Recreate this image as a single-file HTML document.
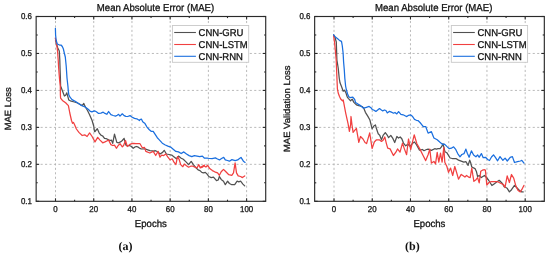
<!DOCTYPE html>
<html><head><meta charset="utf-8"><style>
html,body{margin:0;padding:0;background:#fff;}
body{width:550px;height:255px;overflow:hidden;}
svg{display:block;font-family:'Liberation Sans', Arial, sans-serif;text-rendering:geometricPrecision;}
</style></head><body>
<svg width="550" height="255" viewBox="0 0 550 255">
<rect width="550" height="255" fill="#fff"/>
<g stroke="#b2b2b2" stroke-width="0.9" stroke-dasharray="2.1 2.35"><line x1="55.5" y1="16.5" x2="55.5" y2="201.3"/><line x1="93.72" y1="16.5" x2="93.72" y2="201.3"/><line x1="131.94" y1="16.5" x2="131.94" y2="201.3"/><line x1="170.16" y1="16.5" x2="170.16" y2="201.3"/><line x1="208.38" y1="16.5" x2="208.38" y2="201.3"/><line x1="246.6" y1="16.5" x2="246.6" y2="201.3"/><line x1="36.15" y1="164.34" x2="265.71" y2="164.34"/><line x1="36.15" y1="127.38" x2="265.71" y2="127.38"/><line x1="36.15" y1="90.42" x2="265.71" y2="90.42"/><line x1="36.15" y1="53.46" x2="265.71" y2="53.46"/></g>
<polyline points="55.5,40 56.5,44 57.8,48 59.3,51 59.8,60 60.1,70 60.4,78 60.6,86 62.4,90.8 64.4,96 65.6,95.2 66.8,92.8 68,97.2 68.8,100 71.2,101.2 74.4,102 77.5,103 82.2,105.6 83.8,103.5 85.5,107.2 87.5,110.5 89.6,114.7 92.1,120.5 93.7,126 94.5,131.5 95,131.5 97.3,128.7 99.1,132.8 100.9,135.1 102.7,136 104.5,138.3 106.4,138.7 108.2,139.6 110,140.5 111.4,140.1 112.7,143.3 114.5,134.2 116.8,142.4 118.6,142.8 120.5,141.9 122.3,140.5 124.1,138.3 125.9,145.1 127.7,146 129.5,145.5 131.4,146.5 133.2,148.3 135,146.9 136.8,146.5 138.6,147.4 140.5,148.7 141.5,149 144.9,148.9 149.9,150.6 154.8,151.1 155,150.5 157.7,151.8 160,154 162.6,152.4 164.2,150.3 166.4,154 169,154.5 171.7,155.1 173.8,156.7 176.4,158.8 178.5,156.1 181.2,158.2 183.3,159.3 186,161.9 188.6,164.6 191.2,161.4 193.4,164.6 196,167.8 198.1,169.9 200,170.6 201.8,172.4 203.5,172.9 205.3,172.4 207.1,174.1 208.8,176.5 211.2,177.6 213.5,177.1 216.5,180.6 218.2,180 219.4,176.5 221.2,179.4 223.5,181.2 225.3,184.7 227.6,181.2 229.4,183.5 231.8,184.7 234.7,184.7 237.1,181.2 238.8,181.8 240.6,181.2 242.9,184.1 244.7,185.9" fill="none" stroke="#515151" stroke-width="1.25" stroke-linejoin="round" stroke-linecap="round"/>
<polyline points="55.3,38 56.2,42 57.2,48 57.7,53 58.2,60 58.6,67 59.2,75 59.7,81 60.3,86 60.3,86 60.4,95 60.6,98 62.4,100.4 65.6,102.8 68.4,105.6 69.8,113 71.5,120.5 72.5,123.3 73.5,122.5 74.5,124.5 76.4,129 78.9,132.4 82.2,135.5 84.7,134.8 87.1,136.5 89.6,132.9 92.1,136.5 95,141.9 97.7,137.4 100,140.1 102.7,142.8 105,141.9 106.8,141 108.6,140.1 110.9,144.6 112.7,145.5 114.5,145.1 116.4,148.3 118.2,145.5 120,143.7 122.3,146.9 123.6,145.5 125.5,140.5 127.3,146.5 129.5,144.6 131.8,143.7 133.6,143.3 135.9,143.7 138.2,143.7 140,143.7 142.3,147.8 144.5,147.4 145.8,151.4 149.9,153 153.2,151.4 155.7,155.5 158.1,151.4 160,157.2 161.6,155.1 163.7,155.6 165.8,154 167.9,157.2 170.1,159.8 172.2,158.8 173.8,161.9 175.9,164.6 177.5,156.7 179.1,159.3 180.7,164.6 182.8,166.7 184.4,164.1 186.5,165.7 188.6,167.2 190.7,166.2 192.8,166.2 195,167.2 197.1,167.8 198.7,164.6 200.3,167.8 202.4,167.2 204.5,165.1 200,167.6 202.4,166.5 204.1,165.9 205.9,167.1 207.6,165.3 210,168.8 212.4,170.6 214.7,171.8 217.6,172.9 219.4,175.3 221.2,171.8 223.5,169.4 225.9,171.8 228.8,174.7 231.8,175.3 233.5,172.9 235.1,162.9 236.5,172.9 238.2,175.9 240.6,176.5 242.4,177.6 244.7,175.9" fill="none" stroke="#F14040" stroke-width="1.25" stroke-linejoin="round" stroke-linecap="round"/>
<polyline points="55.4,28.3 55.6,35 56.2,40.5 57.3,44 59.5,45 61,45 62.3,46.5 63.3,48.7 64.3,53 65.3,57 66.2,66 67,78 67.9,86 68.3,90.8 68.8,94.8 70,97.2 72,99.6 75.2,101.2 81.5,105.5 85.5,107.2 88.5,109.5 90,111.1 91.8,111.8 94.5,110.8 96.4,111.8 98.6,113.4 100.9,113.1 103.2,112.2 105,113.4 106.8,114.3 108.6,111.5 110.9,114.7 113.2,115.5 115.5,116.1 117.3,115.2 118.6,114.3 120,116.1 122.3,113.8 124.1,115.6 125.9,116.4 127.7,116.5 130,115.6 131.8,117 134.5,118.4 136.8,118.8 139.5,120.6 140,119.5 141.4,119.1 142.7,121.8 145,123.6 146.8,126.8 149.1,129.5 151.4,131.4 153.2,131.4 155,134.1 157.3,137.7 158.6,139.1 162.3,143.2 165.3,145 167.9,146.1 170.6,147.1 173.2,149.2 175.9,151.4 178.5,151.9 181.2,153.5 183.8,151.9 186.5,154 189.1,155.6 191.8,156.7 194.4,155.6 197.1,156.1 199.7,156.7 202.4,156.1 204.5,158.2 207.2,158.2 209.5,158.5 212.1,158.6 215.4,157.9 217.5,159 219.5,159.9 221.5,158.5 223.7,157.4 225.3,159.9 227.5,160.5 229.4,161.2 231.9,159.6 235.2,160.7 237.7,159.9 239.5,158.5 241,157.4 243.4,161.2 245.1,162.4" fill="none" stroke="#1A6FDF" stroke-width="1.25" stroke-linejoin="round" stroke-linecap="round"/>
<g stroke="#2a2a2a" stroke-width="1.1"><line x1="55.5" y1="201.3" x2="55.5" y2="198.3"/><line x1="55.5" y1="16.5" x2="55.5" y2="19.5"/><line x1="74.61" y1="201.3" x2="74.61" y2="199.7"/><line x1="74.61" y1="16.5" x2="74.61" y2="18.1"/><line x1="93.72" y1="201.3" x2="93.72" y2="198.3"/><line x1="93.72" y1="16.5" x2="93.72" y2="19.5"/><line x1="112.83" y1="201.3" x2="112.83" y2="199.7"/><line x1="112.83" y1="16.5" x2="112.83" y2="18.1"/><line x1="131.94" y1="201.3" x2="131.94" y2="198.3"/><line x1="131.94" y1="16.5" x2="131.94" y2="19.5"/><line x1="151.05" y1="201.3" x2="151.05" y2="199.7"/><line x1="151.05" y1="16.5" x2="151.05" y2="18.1"/><line x1="170.16" y1="201.3" x2="170.16" y2="198.3"/><line x1="170.16" y1="16.5" x2="170.16" y2="19.5"/><line x1="189.27" y1="201.3" x2="189.27" y2="199.7"/><line x1="189.27" y1="16.5" x2="189.27" y2="18.1"/><line x1="208.38" y1="201.3" x2="208.38" y2="198.3"/><line x1="208.38" y1="16.5" x2="208.38" y2="19.5"/><line x1="227.49" y1="201.3" x2="227.49" y2="199.7"/><line x1="227.49" y1="16.5" x2="227.49" y2="18.1"/><line x1="246.6" y1="201.3" x2="246.6" y2="198.3"/><line x1="246.6" y1="16.5" x2="246.6" y2="19.5"/><line x1="36.15" y1="201.3" x2="39.15" y2="201.3"/><line x1="265.71" y1="201.3" x2="262.71" y2="201.3"/><line x1="36.15" y1="182.82" x2="37.75" y2="182.82"/><line x1="265.71" y1="182.82" x2="264.11" y2="182.82"/><line x1="36.15" y1="164.34" x2="39.15" y2="164.34"/><line x1="265.71" y1="164.34" x2="262.71" y2="164.34"/><line x1="36.15" y1="145.86" x2="37.75" y2="145.86"/><line x1="265.71" y1="145.86" x2="264.11" y2="145.86"/><line x1="36.15" y1="127.38" x2="39.15" y2="127.38"/><line x1="265.71" y1="127.38" x2="262.71" y2="127.38"/><line x1="36.15" y1="108.9" x2="37.75" y2="108.9"/><line x1="265.71" y1="108.9" x2="264.11" y2="108.9"/><line x1="36.15" y1="90.42" x2="39.15" y2="90.42"/><line x1="265.71" y1="90.42" x2="262.71" y2="90.42"/><line x1="36.15" y1="71.94" x2="37.75" y2="71.94"/><line x1="265.71" y1="71.94" x2="264.11" y2="71.94"/><line x1="36.15" y1="53.46" x2="39.15" y2="53.46"/><line x1="265.71" y1="53.46" x2="262.71" y2="53.46"/><line x1="36.15" y1="34.98" x2="37.75" y2="34.98"/><line x1="265.71" y1="34.98" x2="264.11" y2="34.98"/><line x1="36.15" y1="16.5" x2="39.15" y2="16.5"/><line x1="265.71" y1="16.5" x2="262.71" y2="16.5"/></g>
<rect x="36.15" y="16.5" width="229.56" height="184.8" fill="none" stroke="#2a2a2a" stroke-width="1.15"/>
<g font-size="7.9" fill="#1a1a1a" stroke="#1a1a1a" stroke-width="0.3"><text transform="translate(55.5,211.6) scale(1,1.07)" text-anchor="middle">0</text><text transform="translate(93.72,211.6) scale(1,1.07)" text-anchor="middle">20</text><text transform="translate(131.94,211.6) scale(1,1.07)" text-anchor="middle">40</text><text transform="translate(170.16,211.6) scale(1,1.07)" text-anchor="middle">60</text><text transform="translate(208.38,211.6) scale(1,1.07)" text-anchor="middle">80</text><text transform="translate(246.6,211.6) scale(1,1.07)" text-anchor="middle">100</text><text transform="translate(31.95,204.15) scale(1,1.07)" text-anchor="end">0.1</text><text transform="translate(31.95,167.19) scale(1,1.07)" text-anchor="end">0.2</text><text transform="translate(31.95,130.23) scale(1,1.07)" text-anchor="end">0.3</text><text transform="translate(31.95,93.27) scale(1,1.07)" text-anchor="end">0.4</text><text transform="translate(31.95,56.31) scale(1,1.07)" text-anchor="end">0.5</text><text transform="translate(31.95,19.35) scale(1,1.07)" text-anchor="end">0.6</text></g>
<g font-size="9.6" fill="#111" stroke="#1a1a1a" stroke-width="0.3"><text transform="translate(155.5,10.9) scale(1,1.05)" text-anchor="middle">Mean Absolute Error (MAE)</text></g>
<g font-size="9.6" fill="#111" stroke="#1a1a1a" stroke-width="0.3"><text transform="translate(150.85,226.8) scale(1,1.05)" text-anchor="middle">Epochs</text></g>
<text transform="translate(10.6,108.8) rotate(-90) scale(1.05,1)" text-anchor="middle" font-size="9.0" fill="#111" stroke="#1a1a1a" stroke-width="0.3">MAE Loss</text>
<rect x="172.4" y="25.5" width="76.3" height="36.8" fill="#fff" stroke="#c8c8c8" stroke-width="0.9"/><line x1="174.2" y1="32.5" x2="195.9" y2="32.5" stroke="#515151" stroke-width="1.1"/><g font-size="9.5" fill="#111" stroke="#1a1a1a" stroke-width="0.3"><text transform="translate(198.6,35.9) scale(1,1.05)" text-anchor="start">CNN-GRU</text></g><line x1="174.2" y1="44.5" x2="195.9" y2="44.5" stroke="#F14040" stroke-width="1.1"/><g font-size="9.5" fill="#111" stroke="#1a1a1a" stroke-width="0.3"><text transform="translate(198.6,47.7) scale(1,1.05)" text-anchor="start">CNN-LSTM</text></g><line x1="174.2" y1="56.3" x2="195.9" y2="56.3" stroke="#1A6FDF" stroke-width="1.1"/><g font-size="9.5" fill="#111" stroke="#1a1a1a" stroke-width="0.3"><text transform="translate(198.6,59.5) scale(1,1.05)" text-anchor="start">CNN-RNN</text></g>
<text x="125.4" y="249.8" text-anchor="middle" font-family="'Liberation Serif', 'Times New Roman', serif" font-weight="bold" font-size="12" fill="#111">(a)</text>
<g stroke="#b2b2b2" stroke-width="0.9" stroke-dasharray="2.1 2.35"><line x1="334" y1="16.5" x2="334" y2="201.3"/><line x1="372.24" y1="16.5" x2="372.24" y2="201.3"/><line x1="410.48" y1="16.5" x2="410.48" y2="201.3"/><line x1="448.72" y1="16.5" x2="448.72" y2="201.3"/><line x1="486.96" y1="16.5" x2="486.96" y2="201.3"/><line x1="525.2" y1="16.5" x2="525.2" y2="201.3"/><line x1="314.65" y1="164.34" x2="544.32" y2="164.34"/><line x1="314.65" y1="127.38" x2="544.32" y2="127.38"/><line x1="314.65" y1="90.42" x2="544.32" y2="90.42"/><line x1="314.65" y1="53.46" x2="544.32" y2="53.46"/></g>
<polyline points="333.6,35 335,37.5 336.3,42 336.9,60 338.2,68 339.2,78 340,82.8 341.6,86.8 343.2,91.2 344.6,90.2 346,93 347.2,96.8 348.3,98.3 350.6,100.8 352.2,99.1 353.9,102.4 356.4,104.9 358.8,105.7 362.1,106.5 363.8,108.2 365.4,112.3 367.9,116.4 369.9,120 371,124.4 372.1,128.8 373.8,126 375.4,124.9 376.5,128.8 378.2,133.7 379.8,135.4 381.5,139.8 383.1,135.4 385.3,132.6 387,134.8 388.6,137.6 390.8,135.4 393,138.7 394.7,142.5 396.9,136.5 398.5,138.1 400.2,137 401.8,138.7 403.5,143.1 405.7,145.8 407.9,144.2 410.1,146.4 412.3,143.6 414.5,142 416.6,144.9 419.5,150.2 422.4,149.5 424,150.7 426.5,149.5 428.1,149.1 431.4,150.4 434.7,148.7 436.4,149.1 438,148.7 440,148.6 441.8,146.4 443,143.6 445,151.8 446.8,152.7 450.1,158 452.2,158.5 455.9,158.5 458.5,160.1 461.2,161.2 463.8,162.2 466,161.7 468.1,165.4 469.7,160.1 470.7,162.8 471.8,167 475,168.6 476.5,171.8 477.6,176.5 479.2,175.5 481.3,177.6 484.5,175.5 486.5,177.5 488.8,180.5 491.9,185.5 494.1,183.9 497,181.7 499.2,180.3 502.1,183.2 504.3,186.8 507.2,188.3 509.4,191.9 511.5,189.7 514.5,185.4 516.6,187.5 519.5,190.5 521.7,191.9 523.2,191.9" fill="none" stroke="#515151" stroke-width="1.25" stroke-linejoin="round" stroke-linecap="round"/>
<polyline points="333.6,35.6 334.5,42 335.3,50 336.2,60 336.8,75 337.4,88.8 338.2,93 339.5,96.5 340.7,99 342.4,100.8 343.2,99.9 345.7,113.1 348.1,123.8 349.4,131.4 350.6,124.7 351,116.5 352,125 353.1,132.4 354.7,130.4 356.4,128.3 358.8,142.3 360.5,136.5 363,139 365,142.5 366.6,143.6 369.7,132.8 372.1,148.5 374.3,142 376.5,139.8 379.3,139.8 381.5,141.4 383.1,140.3 384.8,137 386.4,143.6 387.7,148.1 390.1,148.9 393.4,155.5 395.9,152.2 397.5,148.9 400,152.2 402.5,143.1 404.1,148.1 406.6,154.7 408.5,139 410.7,149.7 414.2,134.8 416.8,143.5 419.9,149.1 423.2,155.7 425.7,160.6 428.1,154.8 429.8,149.1 431.4,163.1 433.9,161.4 435.5,163.9 437.2,152.4 438.8,162.2 440.5,153.2 442.1,162.2 443.8,147.4 444.8,162.2 446.9,166.5 448.5,172.3 450.6,168.1 452.7,175.5 454.8,166.5 456.4,171.8 458.5,179.2 461.2,174.4 462.8,175.5 464.9,177.1 466.5,175.5 468.6,177.1 470.2,177.6 471.8,168.1 472.8,174.9 473.9,181.3 476,179.7 477.6,177.6 479.2,182.9 480.8,171.2 482.4,170.2 484.5,169.7 485.4,170.1 486.8,185 489,182.5 491.2,181.7 494.1,181.7 497.7,181.7 500.6,183.2 503.5,184.6 505,187.5 507.2,175.9 509.4,182.5 511.5,174.5 513.7,178.1 515.9,186.1 518.1,190.5 520.3,191.9 522.5,188.3 523.9,185.4" fill="none" stroke="#F14040" stroke-width="1.25" stroke-linejoin="round" stroke-linecap="round"/>
<polyline points="333.6,34.8 335.7,37.3 337.4,38.5 339.8,40.6 341.5,41.4 342.3,46 343.1,53 343.6,62 344.3,70 344.8,78 345.6,86 346.4,90 347.6,94 348.8,96.8 350,97.6 352.8,97.2 354.7,99.5 355.5,102.4 358,104.1 360.9,105.9 363.6,108.2 366.4,107.3 369.1,106.4 370.9,107.7 372.3,109.5 373.6,110 375.9,111.4 377.7,110 379.5,108.6 381.4,110 382.7,110.9 384.5,110 385.9,110.5 387.3,112.9 389.5,111.3 391.4,112.1 393.6,113.2 395,112.5 396.8,113.9 398.6,111.6 400.9,114.4 403.2,114.8 405,115.7 406.8,116.6 408.6,115.3 410.5,114.8 412.3,116.2 414.5,119.4 416.4,120.3 418.2,120.7 420,122.5 422.3,125.3 423.2,126.5 425.7,126.5 428.1,133.1 431.4,131.7 433.9,138 437.2,139.7 440,142.3 442.7,144.5 444.5,144.1 446.8,146.4 449.1,148.6 451.4,148.2 453.6,146.8 455.5,149.1 457.7,153.6 460,156.8 461.8,154.5 464.1,153.6 465.9,149.1 467.3,153.2 469.1,157.3 471.4,150.9 473.6,155 475.9,156.8 477.7,155 479.1,157.3 481.4,153.6 483.2,157.7 485.5,157.3 487.7,159.5 489.5,160.5 491.5,157 493.5,154.8 495.4,157.4 497.6,160.8 500,156.6 502.9,160.3 505.1,158.1 507.3,161 510.2,157.4 512.4,156.6 514.5,162.5 517.5,161.7 520.4,161 521.8,160.3 524,163.2" fill="none" stroke="#1A6FDF" stroke-width="1.25" stroke-linejoin="round" stroke-linecap="round"/>
<g stroke="#2a2a2a" stroke-width="1.1"><line x1="334" y1="201.3" x2="334" y2="198.3"/><line x1="334" y1="16.5" x2="334" y2="19.5"/><line x1="353.12" y1="201.3" x2="353.12" y2="199.7"/><line x1="353.12" y1="16.5" x2="353.12" y2="18.1"/><line x1="372.24" y1="201.3" x2="372.24" y2="198.3"/><line x1="372.24" y1="16.5" x2="372.24" y2="19.5"/><line x1="391.36" y1="201.3" x2="391.36" y2="199.7"/><line x1="391.36" y1="16.5" x2="391.36" y2="18.1"/><line x1="410.48" y1="201.3" x2="410.48" y2="198.3"/><line x1="410.48" y1="16.5" x2="410.48" y2="19.5"/><line x1="429.6" y1="201.3" x2="429.6" y2="199.7"/><line x1="429.6" y1="16.5" x2="429.6" y2="18.1"/><line x1="448.72" y1="201.3" x2="448.72" y2="198.3"/><line x1="448.72" y1="16.5" x2="448.72" y2="19.5"/><line x1="467.84" y1="201.3" x2="467.84" y2="199.7"/><line x1="467.84" y1="16.5" x2="467.84" y2="18.1"/><line x1="486.96" y1="201.3" x2="486.96" y2="198.3"/><line x1="486.96" y1="16.5" x2="486.96" y2="19.5"/><line x1="506.08" y1="201.3" x2="506.08" y2="199.7"/><line x1="506.08" y1="16.5" x2="506.08" y2="18.1"/><line x1="525.2" y1="201.3" x2="525.2" y2="198.3"/><line x1="525.2" y1="16.5" x2="525.2" y2="19.5"/><line x1="314.65" y1="201.3" x2="317.65" y2="201.3"/><line x1="544.32" y1="201.3" x2="541.32" y2="201.3"/><line x1="314.65" y1="182.82" x2="316.25" y2="182.82"/><line x1="544.32" y1="182.82" x2="542.72" y2="182.82"/><line x1="314.65" y1="164.34" x2="317.65" y2="164.34"/><line x1="544.32" y1="164.34" x2="541.32" y2="164.34"/><line x1="314.65" y1="145.86" x2="316.25" y2="145.86"/><line x1="544.32" y1="145.86" x2="542.72" y2="145.86"/><line x1="314.65" y1="127.38" x2="317.65" y2="127.38"/><line x1="544.32" y1="127.38" x2="541.32" y2="127.38"/><line x1="314.65" y1="108.9" x2="316.25" y2="108.9"/><line x1="544.32" y1="108.9" x2="542.72" y2="108.9"/><line x1="314.65" y1="90.42" x2="317.65" y2="90.42"/><line x1="544.32" y1="90.42" x2="541.32" y2="90.42"/><line x1="314.65" y1="71.94" x2="316.25" y2="71.94"/><line x1="544.32" y1="71.94" x2="542.72" y2="71.94"/><line x1="314.65" y1="53.46" x2="317.65" y2="53.46"/><line x1="544.32" y1="53.46" x2="541.32" y2="53.46"/><line x1="314.65" y1="34.98" x2="316.25" y2="34.98"/><line x1="544.32" y1="34.98" x2="542.72" y2="34.98"/><line x1="314.65" y1="16.5" x2="317.65" y2="16.5"/><line x1="544.32" y1="16.5" x2="541.32" y2="16.5"/></g>
<rect x="314.65" y="16.5" width="229.67" height="184.8" fill="none" stroke="#2a2a2a" stroke-width="1.15"/>
<g font-size="7.9" fill="#1a1a1a" stroke="#1a1a1a" stroke-width="0.3"><text transform="translate(334,211.6) scale(1,1.07)" text-anchor="middle">0</text><text transform="translate(372.24,211.6) scale(1,1.07)" text-anchor="middle">20</text><text transform="translate(410.48,211.6) scale(1,1.07)" text-anchor="middle">40</text><text transform="translate(448.72,211.6) scale(1,1.07)" text-anchor="middle">60</text><text transform="translate(486.96,211.6) scale(1,1.07)" text-anchor="middle">80</text><text transform="translate(525.2,211.6) scale(1,1.07)" text-anchor="middle">100</text><text transform="translate(310.45,204.15) scale(1,1.07)" text-anchor="end">0.1</text><text transform="translate(310.45,167.19) scale(1,1.07)" text-anchor="end">0.2</text><text transform="translate(310.45,130.23) scale(1,1.07)" text-anchor="end">0.3</text><text transform="translate(310.45,93.27) scale(1,1.07)" text-anchor="end">0.4</text><text transform="translate(310.45,56.31) scale(1,1.07)" text-anchor="end">0.5</text><text transform="translate(310.45,19.35) scale(1,1.07)" text-anchor="end">0.6</text></g>
<g font-size="9.6" fill="#111" stroke="#1a1a1a" stroke-width="0.3"><text transform="translate(433.7,10.9) scale(1,1.05)" text-anchor="middle">Mean Absolute Error (MAE)</text></g>
<g font-size="9.6" fill="#111" stroke="#1a1a1a" stroke-width="0.3"><text transform="translate(429.4,226.8) scale(1,1.05)" text-anchor="middle">Epochs</text></g>
<text transform="translate(290,108.8) rotate(-90) scale(1.05,1)" text-anchor="middle" font-size="9.0" fill="#111" stroke="#1a1a1a" stroke-width="0.3">MAE Validation Loss</text>
<rect x="451.3" y="25.5" width="76.3" height="36.8" fill="#fff" stroke="#c8c8c8" stroke-width="0.9"/><line x1="453.1" y1="32.5" x2="474.8" y2="32.5" stroke="#515151" stroke-width="1.1"/><g font-size="9.5" fill="#111" stroke="#1a1a1a" stroke-width="0.3"><text transform="translate(477.5,35.9) scale(1,1.05)" text-anchor="start">CNN-GRU</text></g><line x1="453.1" y1="44.5" x2="474.8" y2="44.5" stroke="#F14040" stroke-width="1.1"/><g font-size="9.5" fill="#111" stroke="#1a1a1a" stroke-width="0.3"><text transform="translate(477.5,47.7) scale(1,1.05)" text-anchor="start">CNN-LSTM</text></g><line x1="453.1" y1="56.3" x2="474.8" y2="56.3" stroke="#1A6FDF" stroke-width="1.1"/><g font-size="9.5" fill="#111" stroke="#1a1a1a" stroke-width="0.3"><text transform="translate(477.5,59.5) scale(1,1.05)" text-anchor="start">CNN-RNN</text></g>
<text x="412.4" y="249.8" text-anchor="middle" font-family="'Liberation Serif', 'Times New Roman', serif" font-weight="bold" font-size="12" fill="#111">(b)</text>
</svg>
</body></html>
